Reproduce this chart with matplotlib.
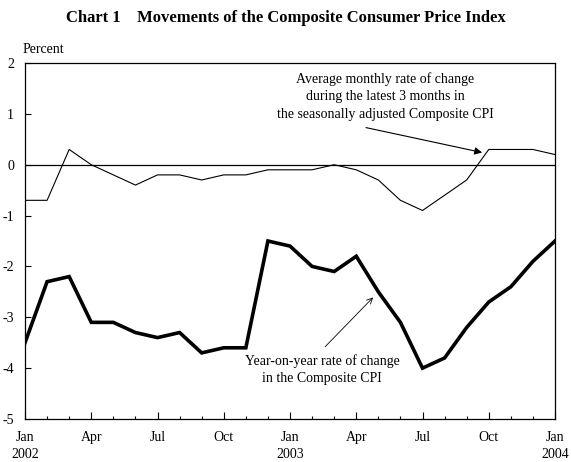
import matplotlib.pyplot as plt

# Monthly data, Jan 2002 - Jan 2004
months = ['Jan 2002', 'Feb', 'Mar', 'Apr', 'May', 'Jun', 'Jul', 'Aug', 'Sep', 'Oct', 'Nov', 'Dec',
          'Jan 2003', 'Feb', 'Mar', 'Apr', 'May', 'Jun', 'Jul', 'Aug', 'Sep', 'Oct', 'Nov', 'Dec',
          'Jan 2004']
yoy_change = [-3.5, -2.3, -2.2, -3.1, -3.1, -3.3, -3.4, -3.3, -3.7, -3.6, -3.6, -1.5,
              -1.6, -2.0, -2.1, -1.8, -2.5, -3.1, -4.0, -3.8, -3.2, -2.7, -2.4, -1.9,
              -1.5]
avg_3m_change = [-0.7, -0.7, 0.3, 0.0, -0.2, -0.4, -0.2, -0.2, -0.3, -0.2, -0.2, -0.1,
                 -0.1, -0.1, 0.0, -0.1, -0.3, -0.7, -0.9, -0.6, -0.3, 0.3, 0.3, 0.3,
                 0.2]
tick_labels = ['Jan\n2002', 'Apr', 'Jul', 'Oct', 'Jan\n2003', 'Apr', 'Jul', 'Oct', 'Jan\n2004']

plt.rcParams['font.family'] = ['Liberation Serif', 'DejaVu Serif']
plt.rcParams['font.size'] = 10
plt.rcParams['axes.unicode_minus'] = False

x = list(range(len(months)))

fig = plt.figure(figsize=(5.71, 4.62), dpi=100)
ax = fig.add_axes([0.0438, 0.0931, 0.9282, 0.7705])

ax.axhline(0, color='black', linewidth=0.9)
ax.plot(x, avg_3m_change, color='black', linewidth=0.8)
ax.plot(x, yoy_change, color='black', linewidth=2.6, solid_joinstyle='miter')

ax.set_xlim(0, len(months) - 1)
ax.set_ylim(-5, 2)
ax.set_yticks(range(-5, 3))
ax.set_xticks(range(0, len(months), 3))
ax.set_xticklabels(tick_labels, va='top', linespacing=1.4)
ax.set_xticks(x, minor=True)
ax.tick_params(axis='x', which='major', direction='in', length=5, width=0.8, pad=9)
ax.tick_params(axis='x', which='minor', direction='in', length=2.5, width=0.8)
ax.tick_params(axis='y', direction='in', length=4, width=0.8, pad=8)
for s in ax.spines.values():
    s.set_linewidth(0.9)

fig.text(0.5, 0.96, 'Chart 1    Movements of the Composite Consumer Price Index',
         ha='center', va='center', fontsize=12, fontweight='bold')
fig.text(0.04, 0.893, 'Percent', ha='left', va='center')

# annotation: 3-month average
ax.text(16.3, 1.34, 'Average monthly rate of change\nduring the latest 3 months in\nthe seasonally adjusted Composite CPI',
        ha='center', va='center', linespacing=1.45)
ax.annotate('', xy=(20.7, 0.24), xytext=(15.44, 0.73),
            arrowprops=dict(arrowstyle='-|>', color='black', lw=0.8, shrinkA=0, shrinkB=0,
                            mutation_scale=11))

# annotation: year-on-year
ax.text(13.45, -4.03, 'Year-on-year rate of change\nin the Composite CPI',
        ha='center', va='center', linespacing=1.45)
ax.annotate('', xy=(15.76, -2.61), xytext=(13.59, -3.58),
            arrowprops=dict(arrowstyle='->', color='black', lw=0.6, shrinkA=0, shrinkB=0))

plt.savefig('out.png', dpi=100)
